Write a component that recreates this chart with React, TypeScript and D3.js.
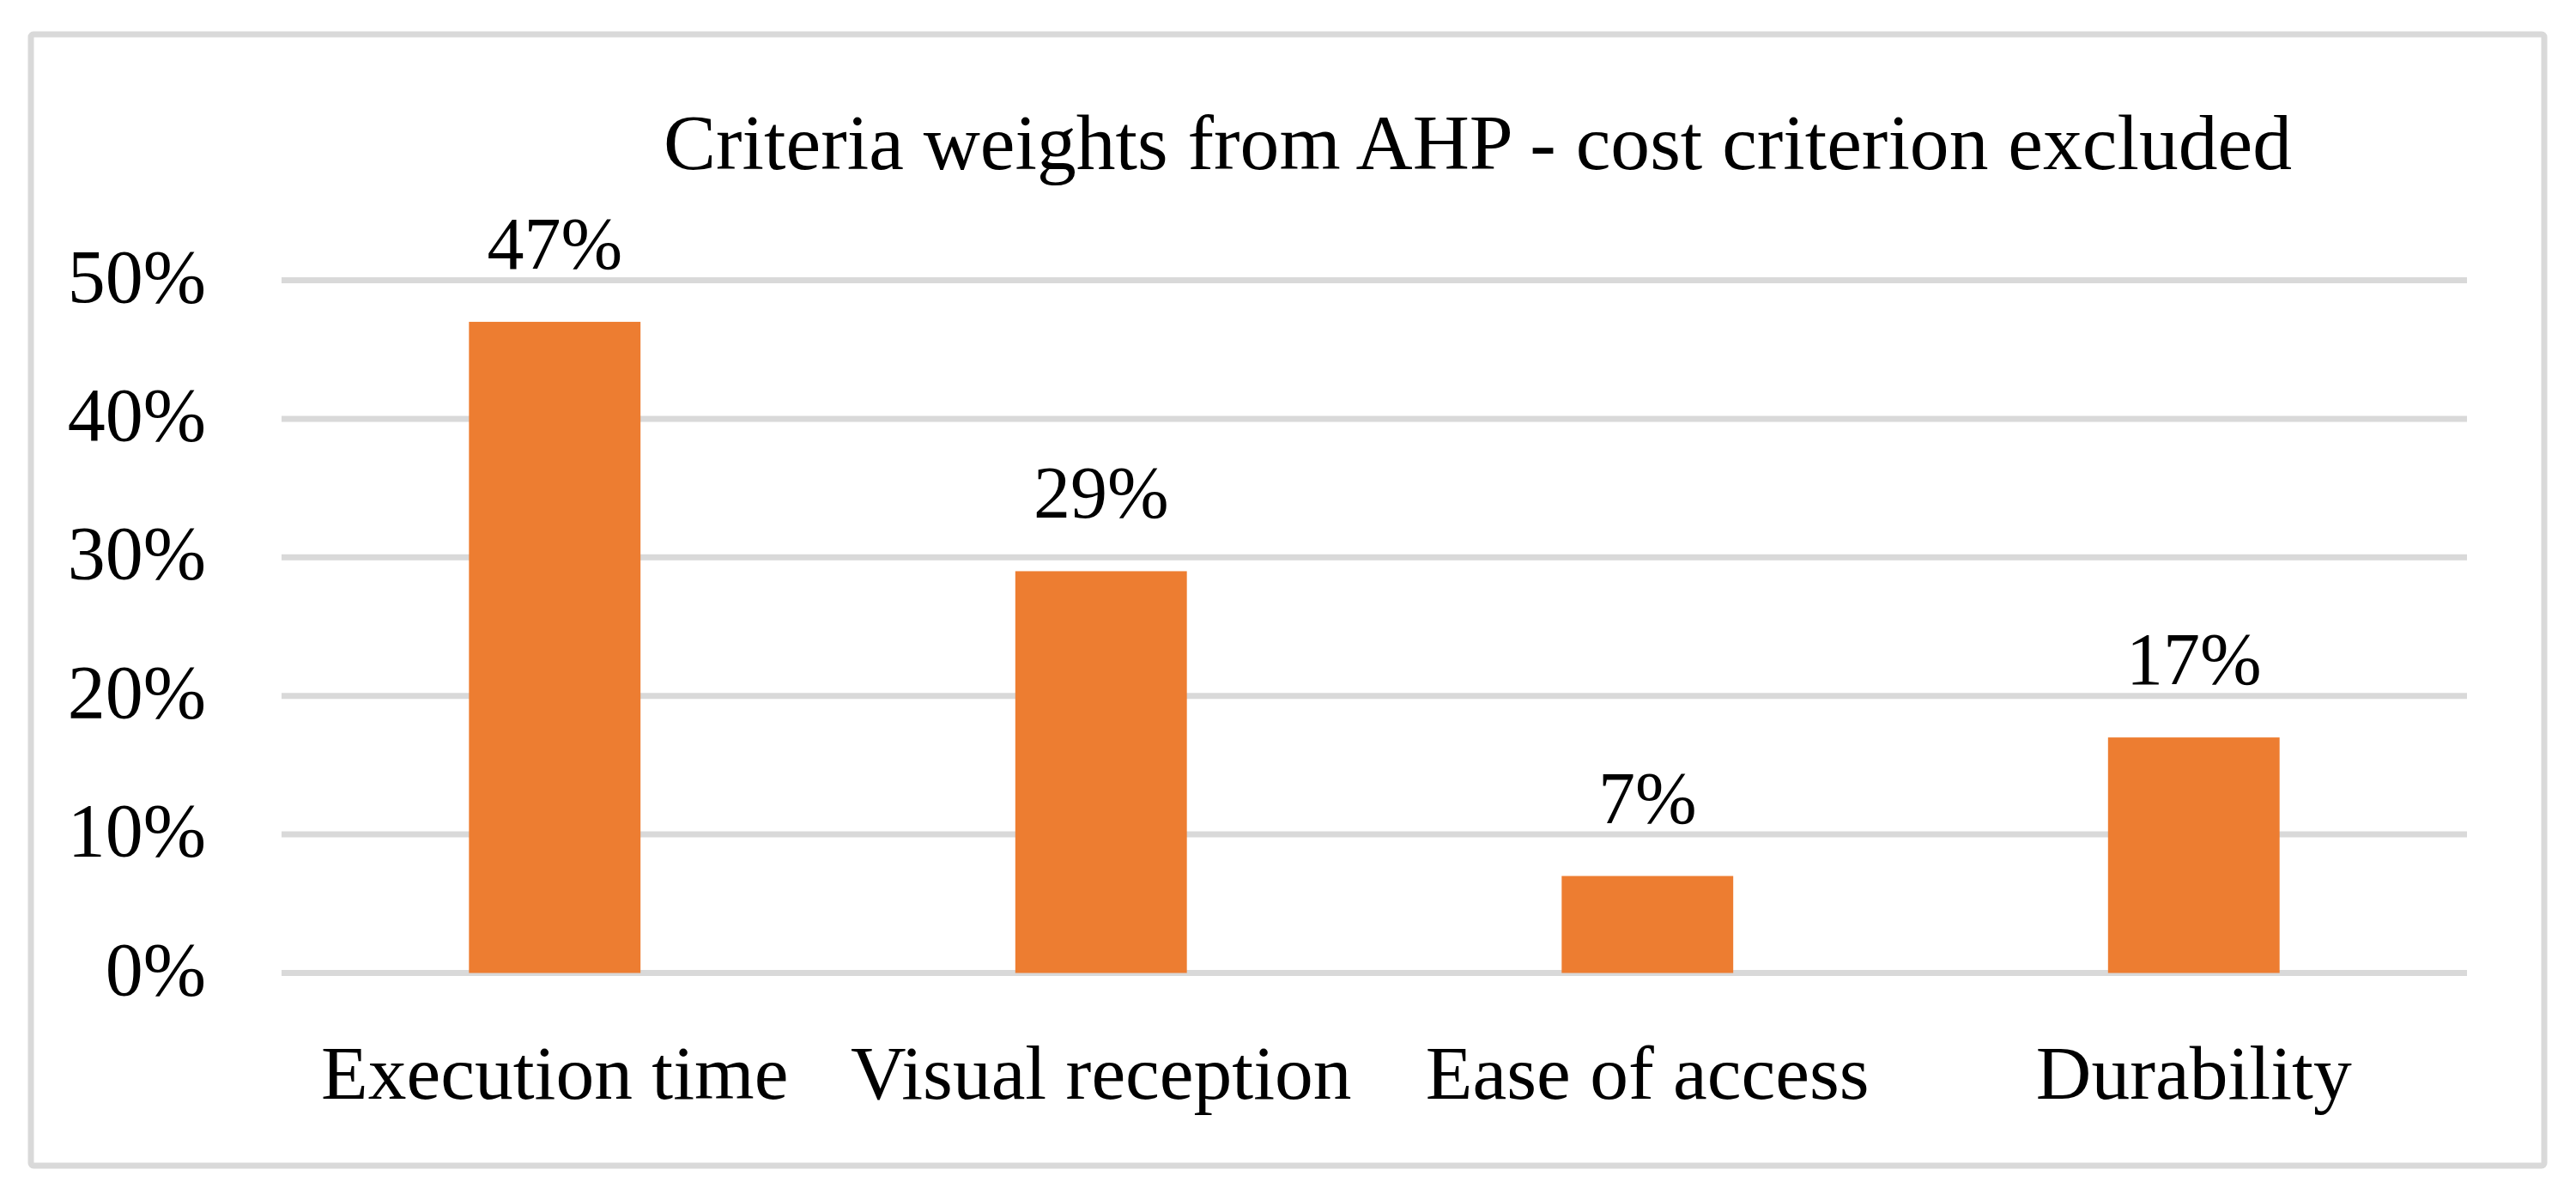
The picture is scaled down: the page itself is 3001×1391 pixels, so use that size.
import React from 'react';
import * as d3 from 'd3';

// data
const categories = ['Execution time', 'Visual reception', 'Ease of access', 'Durability'];
const weights = [0.47, 0.29, 0.07, 0.17];
const yTicks = [0, 0.1, 0.2, 0.3, 0.4, 0.5];
const title = 'Criteria weights from AHP - cost criterion excluded';

const width = 3001,
  height = 1391;
const plot = { left: 328, right: 2874, top: 326.5, bottom: 1133.5 };
const fontFamily = '"Palatino Linotype", "Book Antiqua", Palatino, "Liberation Serif", serif';
const gridColor = '#d9d9d9';
const barColor = '#ed7d31';

export default function App() {
  const xScale = d3
    .scaleBand<string>()
    .domain(categories)
    .range([plot.left, plot.right])
    .paddingInner(0.686)
    .paddingOuter(0.343);

  const yScale = d3.scaleLinear().domain([0, 0.5]).range([plot.bottom, plot.top]);
  const pct = d3.format('.0%');

  return (
    <svg
      width={width}
      height={height}
      style={{ position: 'absolute', left: 0, top: 0, background: '#fff' }}
      fontFamily={fontFamily}
    >
      {/* chart frame */}
      <rect x={36} y={40} width={2928} height={1318} rx={3} fill="#fff" stroke={gridColor} strokeWidth={7} />

      {/* title */}
      <text
        x={1721.5}
        y={197}
        textAnchor="middle"
        fontSize={90}
        textLength={1897}
        lengthAdjust="spacingAndGlyphs"
        fill="#000"
      >
        {title}
      </text>

      {/* gridlines + y labels */}
      {yTicks.map(t => (
        <g key={t}>
          <line x1={plot.left} x2={plot.right} y1={yScale(t)} y2={yScale(t)} stroke={gridColor} strokeWidth={7} />
          <text x={240} y={yScale(t) + 25} textAnchor="end" fontSize={88} fill="#000">
            {pct(t)}
          </text>
        </g>
      ))}

      {/* bars */}
      {categories.map((c, i) => (
        <rect
          key={c}
          x={xScale(c)}
          y={yScale(weights[i])}
          width={xScale.bandwidth()}
          height={yScale(0) - yScale(weights[i])}
          fill={barColor}
        />
      ))}

      {/* value labels */}
      {categories.map((c, i) => (
        <text
          key={c}
          x={(xScale(c) ?? 0) + xScale.bandwidth() / 2}
          y={yScale(weights[i]) - 62}
          textAnchor="middle"
          fontSize={86}
          fill="#000"
        >
          {pct(weights[i])}
        </text>
      ))}

      {/* category labels */}
      {categories.map(c => (
        <text
          key={c}
          x={(xScale(c) ?? 0) + xScale.bandwidth() / 2}
          y={1280}
          textAnchor="middle"
          fontSize={89.5}
          fill="#000"
        >
          {c}
        </text>
      ))}
    </svg>
  );
}
